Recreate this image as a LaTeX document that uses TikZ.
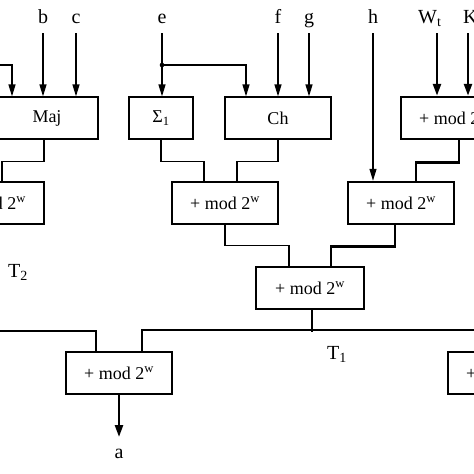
\documentclass[tikz,border=0pt]{standalone}
\usepackage{fontspec}
\setmainfont{Liberation Serif}
\usetikzlibrary{arrows.meta}
\begin{document}
\begin{tikzpicture}[x=1pt,y=-1pt,
  thinln/.style={line width=1.2pt},
  thickln/.style={line width=2.5pt},
  arr/.style={thinln,-{Triangle[length=12pt,width=7pt]}},
  arrthick/.style={thickln,-{Triangle[length=12pt,width=8pt]}},
  boxtxt/.style={font=\fontsize{18}{20}\selectfont},
  thinbox/.style={draw,thinln,boxtxt,minimum height=42pt,inner sep=0pt},
  thickbox/.style={draw,thickln,boxtxt,minimum height=42pt,inner sep=0pt},
  lbl/.style={font=\fontsize{20}{22}\selectfont,inner sep=0pt,anchor=base},
]
\useasboundingbox (0,0) rectangle (474,474);
\fill[white] (0,0) rectangle (474,474);

% boxes
\node[thinbox,minimum width=102pt] (maj) at (47,118) {Maj};
\node[thinbox,minimum width=106pt] (lmod) at (-9,203) {+ mod 2\textsuperscript{w}};
\node[thinbox,minimum width=64pt] (sig) at (161,118) {Σ\textsubscript{1}};
\node[thinbox,minimum width=106pt] (ch) at (278,118) {Ch};
\node[thinbox,minimum width=106pt] (mmod) at (225,203) {+ mod 2\textsuperscript{w}};
\node[thickbox,minimum width=106pt] (hmod) at (401,203) {+ mod 2\textsuperscript{w}};
\node[thickbox,minimum width=106pt] (tr) at (454,118) {+ mod 2\textsuperscript{w}};
\node[thickbox,minimum width=108pt] (t1) at (310,288) {+ mod 2\textsuperscript{w}};
\node[thickbox,minimum width=106pt] (bl) at (119,373) {+ mod 2\textsuperscript{w}};
\node[thickbox,minimum width=106pt] (br) at (501,373) {+ mod 2\textsuperscript{w}};

% labels
\node[lbl] (lb) at (43,23) {b};
\node[lbl] (lc) at (76,23) {c};
\node[lbl] (le) at (162,23) {e};
\node[lbl] (lf) at (278,23) {f};
\node[lbl] (lg) at (309,23) {g};
\node[lbl] (lh) at (373,23) {h};
\node[lbl,anchor=base west] (lw) at (418,23) {W\textsubscript{t}};
\node[lbl,anchor=base west] (lk) at (463,23) {K\textsubscript{t}};
\node[lbl] (lt2) at (18,277) {T\textsubscript{2}};
\node[lbl] (lt1) at (337,359) {T\textsubscript{1}};
\node[lbl] (la) at (119,458) {a};

\coordinate (ain) at (-5,65);
\coordinate (edot) at (162,65);
\coordinate (win) at (437,33);
\coordinate (kin) at (468,33);
\coordinate (t2in) at (-5,331);

% inputs
\draw[arr] (ain) -| ([xshift=-35pt]maj.north);
\draw[arr] ([yshift=-10pt]lb.base) -- (lb.base |- maj.north);
\draw[arr] ([yshift=-10pt]lc.base) -- (lc.base |- maj.north);
\draw[arr] ([yshift=-10pt]le.base) -- (le.base |- sig.north);
\fill (edot) circle (2.3pt);
\draw[arr] (edot) -| ([xshift=-32pt]ch.north);
\draw[arr] ([yshift=-10pt]lf.base) -- (lf.base |- ch.north);
\draw[arr] ([yshift=-10pt]lg.base) -- (lg.base |- ch.north);
\draw[arr] ([yshift=-10pt]lh.base) -- (lh.base |- hmod.north);
\draw[arrthick] (win) -- (win |- tr.north);
\draw[arrthick] (kin) -- (kin |- tr.north);

% internal connectors
\draw[thinln] ([xshift=-3pt]maj.south) -- ++(0,22) -| ([xshift=11pt]lmod.north);
\draw[thinln] (sig.south) -- ++(0,22) -| ([xshift=-21pt]mmod.north);
\draw[thinln] (ch.south) -- ++(0,22) -| ([xshift=12pt]mmod.north);
\draw[thickln] ([xshift=5pt]tr.south) -- ++(0,22) -| ([xshift=15pt]hmod.north);
\draw[thickln] ([xshift=-6pt]hmod.south) -- ++(0,21) -| ([xshift=21pt]t1.north);
\draw[thinln] (mmod.south) -- ++(0,21) -| ([xshift=-21pt]t1.north);
\draw[thickln] ([xshift=2pt]t1.south) -- ++(0,22);
\draw[thickln] ([xshift=23pt]bl.north) -- ++(0,-21) -| ([xshift=-23pt]br.north);
\draw[thinln] (t2in) -| ([xshift=-23pt]bl.north);
\draw[arrthick] (bl.south) -- ([yshift=21pt]la.base);
\end{tikzpicture}
\end{document}
